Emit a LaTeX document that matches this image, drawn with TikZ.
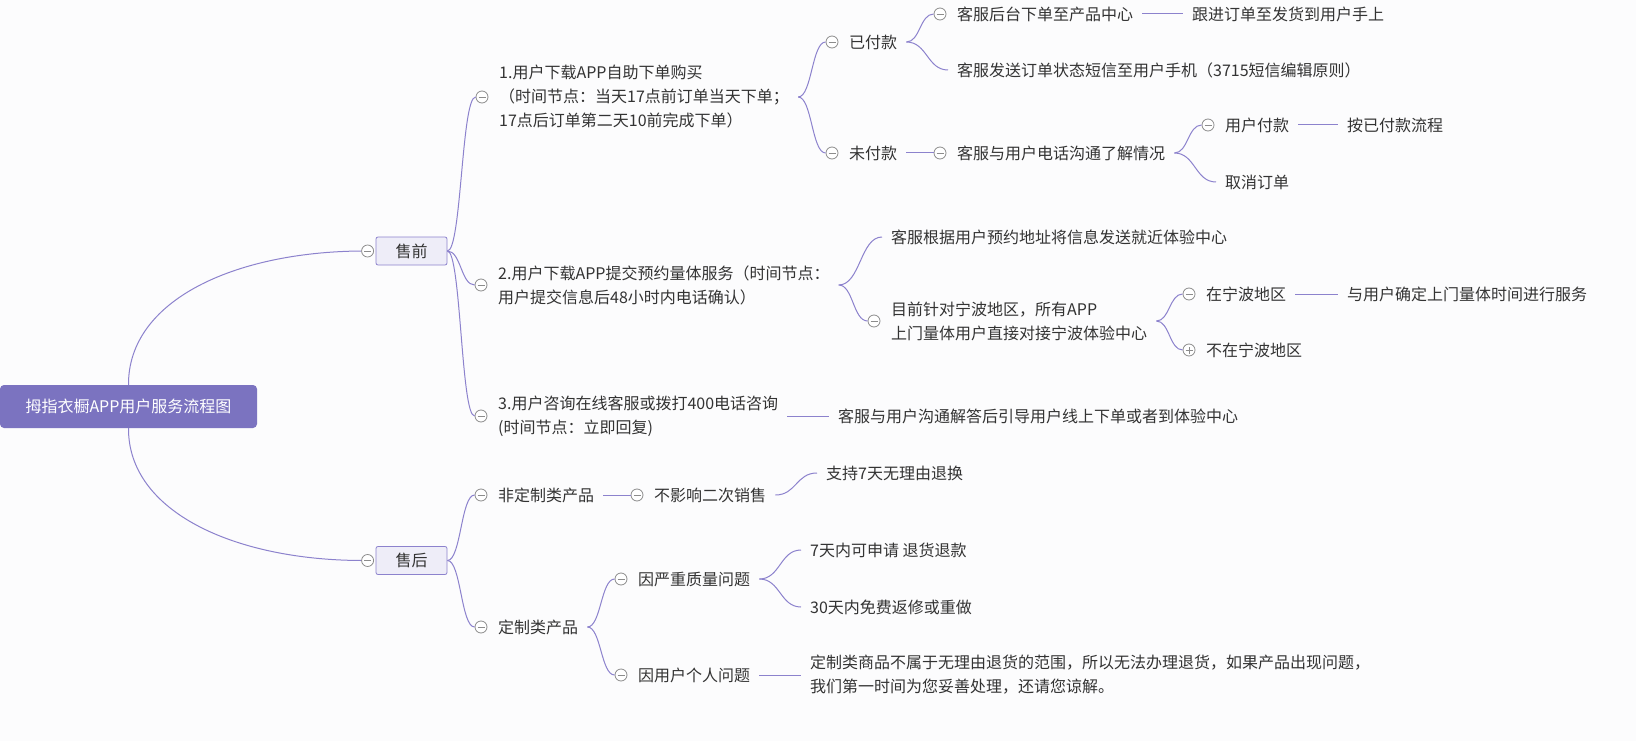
\documentclass[tikz,border=0pt]{standalone}
\usepackage{fontspec}
\newfontfamily\cjk{Noto Sans CJK SC}
\usetikzlibrary{calc}
\definecolor{lnc}{RGB}{140,130,205}
\definecolor{rootc}{RGB}{123,115,192}
\definecolor{boxf}{RGB}{238,237,248}
\definecolor{txc}{RGB}{51,51,51}
\definecolor{bgc}{RGB}{252,252,253}
\definecolor{togc}{RGB}{140,140,140}
\newcommand\myconn[2]{\draw[conn] let \p1=(#1), \p2=(#2) in (\p1) .. controls ({(\x1+\x2)/2},\y1) and ({(\x1+\x2)/2},\y2) .. (\p2);}
\tikzset{
  txt/.style={font=\cjk\fontsize{16}{24}\selectfont, text=txc, inner xsep=9pt, inner ysep=2pt, anchor=west, align=left},
  tog/.style={circle, draw=togc, fill=white, line width=0.8pt, minimum size=12pt, inner sep=0pt,
    path picture={\draw[togc, line width=0.8pt] ([xshift=-3.5pt]path picture bounding box.center) -- ([xshift=3.5pt]path picture bounding box.center);}},
  togp/.style={circle, draw=togc, fill=white, line width=0.8pt, minimum size=12pt, inner sep=0pt,
    path picture={\draw[togc, line width=0.8pt] ([xshift=-3.5pt]path picture bounding box.center) -- ([xshift=3.5pt]path picture bounding box.center);
      \draw[togc, line width=0.8pt] ([yshift=-3.5pt]path picture bounding box.center) -- ([yshift=3.5pt]path picture bounding box.center);}},
  conn/.style={draw=lnc, line width=1pt},
  rootbox/.style={rectangle, rounded corners=4pt, fill=rootc, text=white, minimum width=257pt, minimum height=43pt, inner sep=0pt, font=\cjk\fontsize{16}{24}\selectfont},
  subbox/.style={rectangle, rounded corners=2pt, draw=lnc, fill=boxf, line width=0.8pt, text=txc, minimum width=71pt, minimum height=28pt, inner sep=0pt, font=\cjk\fontsize{16}{24}\selectfont}
}
\begin{document}
\begin{tikzpicture}[x=1pt,y=-1pt]
\fill[bgc] (0,0) rectangle (1636,741);
\useasboundingbox (0,0) rectangle (1636,741);

% root and main branches
\node[rootbox] (root) at (128.5,406.5) {拇指衣橱APP用户服务流程图};
\node[subbox] (pre) at (411.5,251) {售前};
\node[subbox] (post) at (411.5,560.5) {售后};
\node[tog] (cpre) at ([xshift=-8pt]pre.west) {};
\node[tog] (cpost) at ([xshift=-8pt]post.west) {};

% pre-sale
\node[txt] (t1) at (490,97) {1.用户下载APP自助下单购买\\（时间节点：当天17点前订单当天下单；\\17点后订单第二天10前完成下单）};
\node[txt] (t2) at (489,285) {2.用户下载APP提交预约量体服务（时间节点：\\用户提交信息后48小时内电话确认）};
\node[txt] (t3) at (489,416) {3.用户咨询在线客服或拨打400电话咨询\\(时间节点：立即回复)};
\node[txt] (paid) at (840,42) {已付款};
\node[txt] (unpaid) at (840,153) {未付款};
\node[txt] (p1) at (948,14) {客服后台下单至产品中心};
\node[txt] (p1a) at (1183,14) {跟进订单至发货到用户手上};
\node[txt] (p2) at (948,70) {客服发送订单状态短信至用户手机（3715短信编辑原则）};
\node[txt] (u1) at (948,153) {客服与用户电话沟通了解情况};
\node[txt] (u1a) at (1216,125) {用户付款};
\node[txt] (u1a1) at (1338,125) {按已付款流程};
\node[txt] (u1b) at (1216,182) {取消订单};
\node[txt] (s1) at (882,237) {客服根据用户预约地址将信息发送就近体验中心};
\node[txt] (s2) at (882,321) {目前针对宁波地区，所有APP\\上门量体用户直接对接宁波体验中心};
\node[txt] (s2a) at (1197,294) {在宁波地区};
\node[txt] (s2a1) at (1338,294) {与用户确定上门量体时间进行服务};
\node[txt] (s2b) at (1197,350) {不在宁波地区};
\node[txt] (c1) at (829,416) {客服与用户沟通解答后引导用户线上下单或者到体验中心};

% after-sale
\node[txt] (a1) at (489,495) {非定制类产品};
\node[txt] (a1a) at (645,495) {不影响二次销售};
\node[txt] (a1a1) at (817,473) {支持7天无理由退换};
\node[txt] (a2) at (489,627) {定制类产品};
\node[txt] (a2a) at (629,579) {因严重质量问题};
\node[txt] (a2a1) at (801,550) {7天内可申请 退货退款};
\node[txt] (a2a2) at (801,607) {30天内免费返修或重做};
\node[txt] (a2b) at (629,675) {因用户个人问题};
\node[txt] (a2b1) at (801,675) {定制类商品不属于无理由退货的范围，所以无法办理退货，如果产品出现问题，\\我们第一时间为您妥善处理，还请您谅解。};

% toggles
\foreach \n in {t1,t2,t3,paid,unpaid,p1,u1,u1a,s2,s2a,a1,a1a,a2,a2a,a2b}{
  \node[tog] (c\n) at ([xshift=-8pt]\n.west) {};
}
\node[togp] (cs2b) at ([xshift=-8pt]s2b.west) {};

% connectors
\draw[conn] (root.north) .. controls (128,300) and (235,252) .. (cpre.west);
\draw[conn] (root.south) .. controls (128,512) and (235,560) .. (cpost.west);
\myconn{pre.east}{ct1.west}
\myconn{pre.east}{ct2.west}
\myconn{pre.east}{ct3.west}
\myconn{t1.east}{cpaid.west}
\myconn{t1.east}{cunpaid.west}
\myconn{paid.east}{cp1.west}
\myconn{paid.east}{p2.west}
\draw[conn] (p1.east) -- (p1a.west);
\draw[conn] (unpaid.east) -- (cu1.west);
\myconn{u1.east}{cu1a.west}
\myconn{u1.east}{u1b.west}
\draw[conn] (u1a.east) -- (u1a1.west);
\myconn{t2.east}{s1.west}
\myconn{t2.east}{cs2.west}
\myconn{s2.east}{cs2a.west}
\myconn{s2.east}{cs2b.west}
\draw[conn] (s2a.east) -- (s2a1.west);
\draw[conn] (t3.east) -- (c1.west);
\myconn{post.east}{ca1.west}
\myconn{post.east}{ca2.west}
\draw[conn] (a1.east) -- (ca1a.west);
\myconn{a1a.east}{a1a1.west}
\myconn{a2.east}{ca2a.west}
\myconn{a2.east}{ca2b.west}
\myconn{a2a.east}{a2a1.west}
\myconn{a2a.east}{a2a2.west}
\draw[conn] (a2b.east) -- (a2b1.west);
\end{tikzpicture}
\end{document}
